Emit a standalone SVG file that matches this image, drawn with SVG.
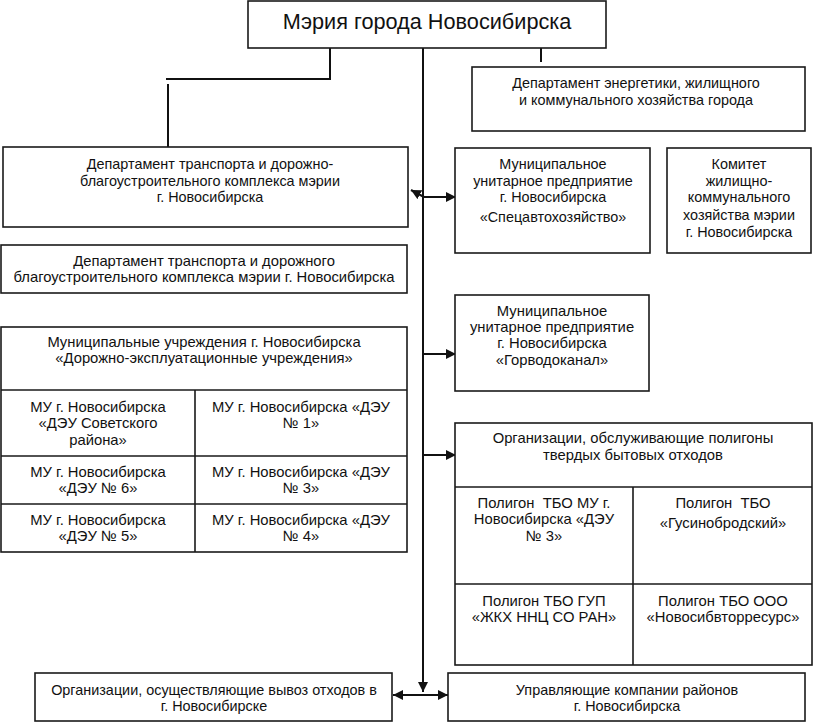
<svg xmlns="http://www.w3.org/2000/svg" width="813" height="722" viewBox="0 0 813 722">
<style>
.box{fill:#fff;stroke:#1a1a1a;stroke-width:1.6}
.ln{fill:none;stroke:#111;stroke-width:2}
.div{fill:none;stroke:#1a1a1a;stroke-width:1.6}
text{font-family:"Liberation Sans",Arial,sans-serif;font-size:14.4px;fill:#111;text-anchor:middle}
.t14{font-size:14.8px}
.title{font-size:21.7px}
</style>
<defs>
<marker id="ah" markerWidth="10" markerHeight="10" refX="10" refY="5" orient="auto" markerUnits="userSpaceOnUse">
<path d="M0,0 L10,5 L0,10 z" fill="#111"/>
</marker>
<marker id="as" markerWidth="10" markerHeight="10" refX="0" refY="5" orient="auto" markerUnits="userSpaceOnUse">
<path d="M10,0 L0,5 L10,10 z" fill="#111"/>
</marker>
</defs>
<rect width="813" height="722" fill="#fff"/>

<g id="connectors">
<path class="ln" d="M423,48 V692" marker-end="url(#ah)"/>
<path class="ln" d="M330,48 V79 H166"/>
<path class="ln" d="M168,84 V147"/>
<path class="ln" d="M541,48 V62"/>
<path class="ln" d="M424,197 H456" marker-end="url(#ah)"/>
<path class="ln" d="M424,197 L411,190" marker-end="url(#ah)"/>
<path class="ln" d="M423,354 H456" marker-end="url(#ah)"/>
<path class="ln" d="M423,455 H456" marker-end="url(#ah)"/>
<path class="ln" d="M393,695 H448" marker-start="url(#as)" marker-end="url(#ah)"/>
</g>

<g id="meriya">
<rect class="box" x="248" y="1" width="358" height="47"/>
<text class="title" x="427" y="29">Мэрия города Новосибирска</text>
</g>

<g id="dep-energy">
<rect class="box" x="472" y="67" width="333" height="64"/>
<text x="636" y="88">Департамент энергетики, жилищного</text>
<text x="636" y="105">и коммунального хозяйства города</text>
</g>

<g id="dep-transport-1">
<rect class="box" x="3" y="147" width="405" height="80"/>
<text x="210" y="169">Департамент транспорта и дорожно-</text>
<text x="210" y="186">благоустроительного комплекса мэрии</text>
<text x="210" y="202">г. Новосибирска</text>
</g>

<g id="spetsavto">
<rect class="box" x="455" y="148" width="195" height="105"/>
<text x="553" y="169">Муниципальное</text>
<text x="553" y="186">унитарное предприятие</text>
<text x="553" y="202">г. Новосибирска</text>
<text x="553" y="222">«Спецавтохозяйство»</text>
</g>

<g id="komitet">
<rect class="box" x="667" y="148" width="144" height="105"/>
<text x="739" y="169">Комитет</text>
<text x="739" y="186">жилищно-</text>
<text x="739" y="202">коммунального</text>
<text x="739" y="220">хозяйства мэрии</text>
<text x="739" y="237">г. Новосибирска</text>
</g>

<g id="dep-transport-2">
<rect class="box" x="1" y="245" width="406" height="48"/>
<text class="t14" x="204" y="266">Департамент транспорта и дорожного</text>
<text class="t14" x="204" y="282">благоустроительного комплекса мэрии г. Новосибирска</text>
</g>

<g id="mu-deu">
<rect class="box" x="1" y="327" width="406" height="225"/>
<path class="div" d="M1,390 H407 M1,456 H407 M1,504 H407 M195,390 V552"/>
<text class="t14" x="204" y="347">Муниципальные учреждения г. Новосибирска</text>
<text class="t14" x="204" y="363">«Дорожно-эксплуатационные учреждения»</text>
<text class="t14" x="98" y="412">МУ г. Новосибирска</text>
<text class="t14" x="98" y="428">«ДЭУ Советского</text>
<text class="t14" x="98" y="445">района»</text>
<text class="t14" x="301" y="412">МУ г. Новосибирска «ДЭУ</text>
<text class="t14" x="301" y="428">№ 1»</text>
<text class="t14" x="98" y="477">МУ г. Новосибирска</text>
<text class="t14" x="98" y="493">«ДЭУ № 6»</text>
<text class="t14" x="301" y="477">МУ г. Новосибирска «ДЭУ</text>
<text class="t14" x="301" y="493">№ 3»</text>
<text class="t14" x="98" y="525">МУ г. Новосибирска</text>
<text class="t14" x="98" y="541">«ДЭУ № 5»</text>
<text class="t14" x="301" y="525">МУ г. Новосибирска «ДЭУ</text>
<text class="t14" x="301" y="541">№ 4»</text>
</g>

<g id="gorvodokanal">
<rect class="box" x="455" y="295" width="194" height="96"/>
<text class="t14" x="552" y="316">Муниципальное</text>
<text class="t14" x="552" y="332">унитарное предприятие</text>
<text class="t14" x="552" y="348">г. Новосибирска</text>
<text class="t14" x="552" y="365">«Горводоканал»</text>
</g>

<g id="poligony">
<rect class="box" x="455" y="423" width="357" height="242"/>
<path class="div" d="M455,487 H812 M455,584 H812 M633,487 V665"/>
<text class="t14" x="633" y="443">Организации, обслуживающие полигоны</text>
<text class="t14" x="633" y="460">твердых бытовых отходов</text>
<text class="t14" x="544" y="508" xml:space="preserve">Полигон  ТБО МУ г.</text>
<text class="t14" x="544" y="524">Новосибирска «ДЭУ</text>
<text class="t14" x="544" y="541">№ 3»</text>
<text class="t14" x="723" y="508" xml:space="preserve">Полигон  ТБО</text>
<text class="t14" x="723" y="528">«Гусинобродский»</text>
<text class="t14" x="544" y="606">Полигон ТБО ГУП</text>
<text class="t14" x="544" y="622">«ЖКХ ННЦ СО РАН»</text>
<text class="t14" x="723" y="606">Полигон ТБО ООО</text>
<text class="t14" x="723" y="622">«Новосибвторресурс»</text>
</g>

<g id="vyvoz">
<rect class="box" x="35" y="673" width="357" height="48"/>
<text x="214" y="695">Организации, осуществляющие вывоз отходов в</text>
<text x="214" y="711">г. Новосибирске</text>
</g>

<g id="uk">
<rect class="box" x="448" y="673" width="357" height="48"/>
<text x="627" y="695">Управляющие компании районов</text>
<text x="627" y="711">г. Новосибирска</text>
</g>
</svg>
